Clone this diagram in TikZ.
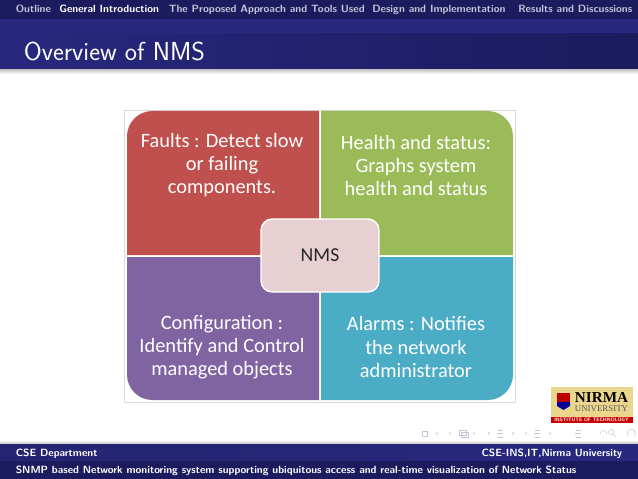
\documentclass[tikz,border=0pt]{standalone}
\usepackage{fontspec}
\setmainfont{Carlito}
\newfontfamily\logofont{Liberation Serif}
\definecolor{navydark}{HTML}{1B1B5E}
\definecolor{navyblue}{HTML}{28287F}
\definecolor{quadred}{HTML}{C0504D}
\definecolor{quadgreen}{HTML}{9BBB59}
\definecolor{quadpurple}{HTML}{8064A2}
\definecolor{quadblue}{HTML}{4BACC6}
\definecolor{centerpink}{HTML}{E6D0D2}
\definecolor{navgray}{HTML}{C4C4D8}
\definecolor{logotan}{HTML}{EBD68E}
\begin{document}
\begin{tikzpicture}[x=0.025cm, y=-0.025cm,
        headtext/.style={font=\sffamily\bfseries\fontsize{7.5}{8}\selectfont, anchor=base west, inner sep=0pt, text=navgray},
        foottext/.style={font=\sffamily\bfseries\fontsize{7.45}{8}\selectfont, inner sep=0pt, text=white},
        quadtext/.style={font=\fontsize{14.5}{16.4}\selectfont, align=center, text=white, inner sep=0pt},
        navline/.style={draw=navgray, line width=0.35pt},
    ]
        \useasboundingbox (0,0) rectangle (638,479);
        \fill[white] (0,0) rectangle (638,479);

        % Header
        \fill[top color=black!25, bottom color=white] (0,69) rectangle (638,74);
        \fill[left color=navyblue, right color=navydark] (0,19) rectangle (638,69);
        \fill[navyblue] (0,19) rectangle (638,33);
        \fill[navydark] (0,0) rectangle (638,19);
        \node[headtext] (outline) at (15.5,12.5) {Outline};
        \node[headtext, text=white] (intro) at (59,12.5) {General Introduction};
        \node[headtext] (approach) at (168.5,12.5) {The Proposed Approach and Tools Used};
        \node[headtext] (design) at (372,12.5) {Design and Implementation};
        \node[headtext] (results) at (518,12.5) {Results and Discussions};
        \node[font=\sffamily\fontsize{18.5}{20}\selectfont, anchor=base west, inner sep=0pt, text=white] (title) at (23.5,60.5) {Overview of NMS};

        % Diagram
        \draw[draw=black!15, fill=white] (124,110) rectangle (515,402);
        \fill[quadred] (127,255) [rounded corners=18pt] -- (127,111) [sharp corners] -- (319,111) -- (319,255) -- cycle;
        \fill[quadgreen] (321,111) [rounded corners=18pt] -- (513,111) [sharp corners] -- (513,255) -- (321,255) -- cycle;
        \fill[quadpurple] (319,400) [rounded corners=18pt] -- (127,400) [sharp corners] -- (127,257) -- (319,257) -- cycle;
        \fill[quadblue] (513,257) [rounded corners=18pt] -- (513,400) [sharp corners] -- (321,400) -- (321,257) -- cycle;
        \node[quadtext] (faults) at (222,165.5) {Faults : Detect slow\\or failing\\components.};
        \node[quadtext] (health) at (416,165.5) {Health and status:\\Graphs system\\health and status};
        \node[quadtext] (config) at (222,347) {Configuration :\\Identify and Control\\managed objects};
        \node[quadtext] (alarms) at (416,347) {Alarms : Notifies\\the network\\administrator};
        \node[draw=white, line width=1pt, fill=centerpink, rounded corners=8pt, minimum width=118*0.025cm, minimum height=73*0.025cm, font=\fontsize{14}{16}\selectfont, text=black!85] (nms) at (320,255.5) {NMS};

        % Logo
        \fill[logotan] (551,387) rectangle (633,417);
        \fill[red!80!black] (551,417) rectangle (633,423);
        \fill[red!75!black] (557,393) rectangle (570,402);
        \fill[blue!60!black] (557,402) -- (570,402) -- (570,406) -- (563.5,410) -- (557,406) -- cycle;
        \node[font=\logofont\bfseries\fontsize{10.8}{10.8}\selectfont, inner sep=0pt, text=black] (nirma) at (601.5,397) {NIRMA};
        \node[font=\logofont\fontsize{6.3}{6.3}\selectfont, inner sep=0pt, text=black!65] (university) at (601.5,408.5) {UNIVERSITY};
        \node[font=\sffamily\bfseries\fontsize{3.5}{4}\selectfont, inner sep=0pt, text=white] (institute) at (591.5,420) {INSTITUTE OF TECHNOLOGY};

        % Navigation symbols
        \draw[navline] (422,431) rectangle (427,436);
        \draw[navline] (436,432) -- (438,433.5) -- (436,435);
        \draw[navline] (451,432) -- (449,433.5) -- (451,435);
        \draw[navline] (459,430) rectangle (466,435) (461,432) rectangle (468,437);
        \draw[navline] (473,432) -- (475,433.5) -- (473,435);
        \draw[navline] (490,432) -- (488,433.5) -- (490,435);
        \draw[navline] (498,430) -- (503,430) (497,433.5) -- (503,433.5) (498,437) -- (503,437);
        \draw[navline] (512,432) -- (514,433.5) -- (512,435);
        \draw[navline] (527,432) -- (525,433.5) -- (527,435);
        \draw[navline] (535,430) -- (540,430) (534,433.5) -- (540,433.5) (535,437) -- (540,437);
        \draw[navline] (549,432) -- (551,433.5) -- (549,435);
        \draw[navline] (576,430) -- (581,430) (575,433.5) -- (581,433.5) (576,437) -- (581,437);
        \draw[navline] (600,434) arc (180:360:3.5);
        \draw[navline] (611,432) circle (2.5) (613,434) -- (616,437);
        \draw[navline] (634,436) arc (45:-225:4);

        % Footer
        \fill[bottom color=black!25, top color=white] (0,440) rectangle (638,444);
        \fill[left color=navyblue!90!black, right color=navyblue] (0,444) rectangle (638,461);
        \fill[navydark] (0,461) rectangle (638,479);
        \node[foottext, anchor=base west] (dept) at (15.5,456) {CSE Department};
        \node[foottext, anchor=base east] (univ) at (622.5,456) {CSE-INS,IT,Nirma University};
        \node[foottext, anchor=base west] (project) at (15.5,473.5) {SNMP based Network monitoring system supporting ubiquitous access and real-time visualization of Network Status};
    \end{tikzpicture}
\end{document}
